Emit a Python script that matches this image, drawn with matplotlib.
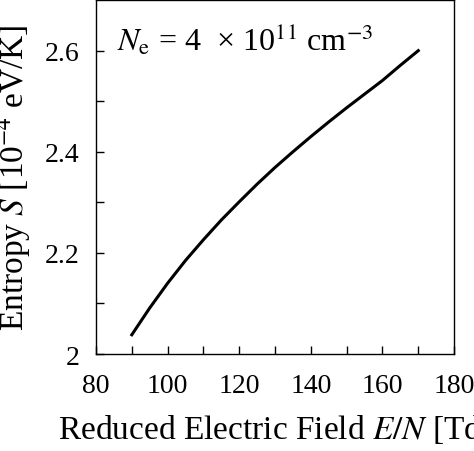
import matplotlib
matplotlib.use("Agg")
import matplotlib.pyplot as plt
import numpy as np

field = [90, 95, 100, 105, 110, 115, 120, 125, 130, 135, 140, 145, 150, 155, 160, 165, 170]
entropy = [2.038, 2.091, 2.140, 2.185, 2.226, 2.265, 2.301, 2.336, 2.369, 2.400, 2.430, 2.459, 2.487, 2.514, 2.541, 2.571, 2.600]

plt.rcParams['font.family'] = ['Liberation Serif', 'DejaVu Serif']
plt.rcParams['mathtext.fontset'] = 'stix'
fig = plt.figure(figsize=(4.74, 4.52), dpi=100)
ax = fig.add_axes([0.2025, 0.2146, 0.7555, 0.783])
ax.plot(field, entropy, color='black', lw=2.2)
ax.set_xlim(80, 180)
ax.set_ylim(2, 2.7)
ax.set_xticks([80, 100, 120, 140, 160, 180])
ax.set_xticks(np.arange(90, 180, 20), minor=True)
ax.set_yticks([2, 2.2, 2.4, 2.6])
ax.set_yticklabels(['2', '2.2', '2.4', '2.6'])
ax.set_yticks([2.1, 2.3, 2.5], minor=True)
ax.tick_params(which='both', direction='in', length=6, width=1, labelsize=20)
ax.tick_params(axis='x', pad=14)
ax.tick_params(axis='y', pad=12)
for s in ax.spines.values():
    s.set_linewidth(1)
ax.set_xlabel('Reduced Electric Field $\\mathit{E}/\\mathit{N}$ [Td]', fontsize=24, labelpad=10)
ax.set_ylabel('Entropy $\\mathit{S}$ [10$^{-4}$ eV/K]', fontsize=24, labelpad=8)
ax.text(0.06, 0.94, '$\\mathit{N}_{\\rm e}$ = 4  × 10$^{11}$ cm$^{-3}$', transform=ax.transAxes,
        fontsize=23, va='top', ha='left')
fig.savefig('out.png', dpi=100)
